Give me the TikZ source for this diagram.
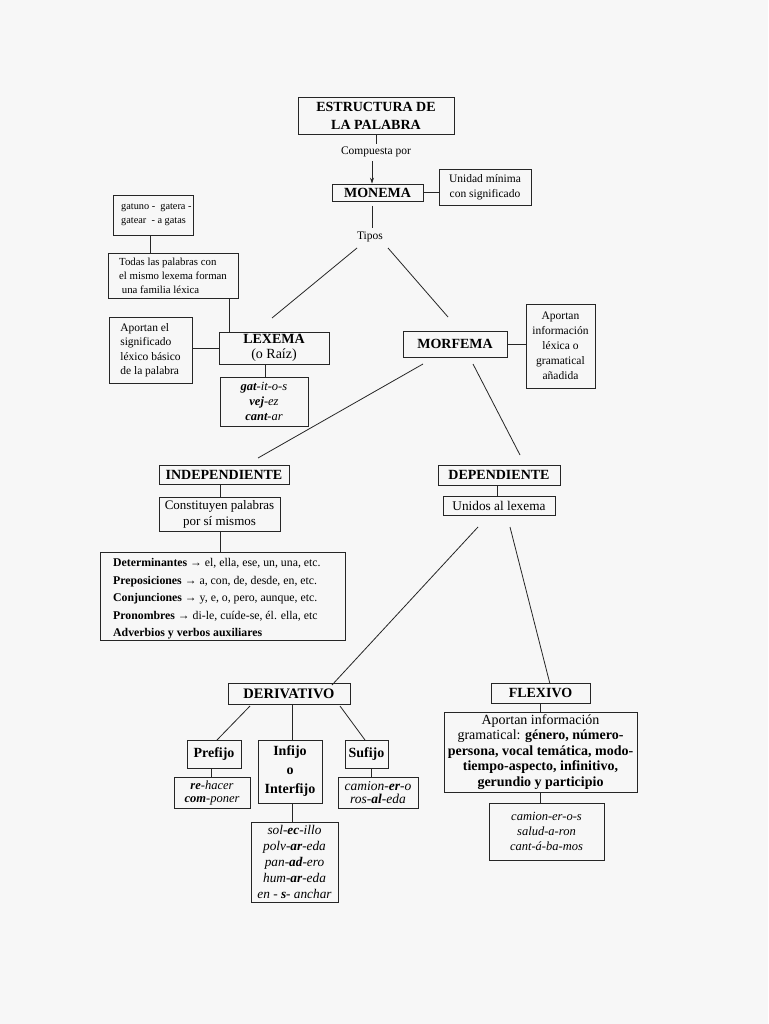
\documentclass[tikz,border=0pt]{standalone}
\usepackage{fontspec}
\setmainfont{Liberation Serif}
\usetikzlibrary{arrows.meta}
\begin{document}
\begin{tikzpicture}[x=1pt,y=-1pt,
  box/.style={draw=black!85, line width=0.8pt, inner sep=0pt, align=center,
    font=\fontsize{11.5}{14.5}\selectfont},
  lbox/.style={box, align=left},
  ttl/.style={box, font=\fontsize{14}{17}\selectfont\bfseries},
  sttl/.style={box, font=\fontsize{14}{16}\selectfont\bfseries},
  exbox/.style={box, font=\fontsize{12.5}{15}\selectfont\itshape},
  lab/.style={inner sep=0pt, font=\fontsize{11.5}{14}\selectfont},
  con/.style={draw=black!85, line width=0.8pt}]
\fill[black!3] (0,0) rectangle (768,1024);
\useasboundingbox (0,0) rectangle (768,1024);

% top
\node[ttl, minimum width=156, minimum height=37] (est) at (376,115.5) {ESTRUCTURA DE\\[1pt]LA PALABRA};
\node[lab] (comp) at (376,152) {Compuesta por};
\node[ttl, minimum width=91, minimum height=17] (mon) at (377.5,192.5) {MONEMA};
\node[box, minimum width=92, minimum height=36] (uni) at (485,187) {Unidad mínima\\con significado};
\node[lab] (tipos) at (370,237) {Tipos};
\draw[con] (est.south -| comp) -- ([yshift=3]comp.north);
\coordinate (ax) at (372,0);
\draw[con, -{Stealth[length=6pt,width=4pt]}] ([yshift=-4]comp.south -| ax) -- (mon.north -| ax);
\draw[con] (mon.east) -- (uni.west |- mon.east);
\coordinate (mb) at (372,206);
\draw[con] (mb) -- ([yshift=4]tipos.north -| mb);

% lexema side
\node[box, minimum width=80, minimum height=40] (gat) at (153,215) {};
\node[lab, align=left, anchor=west, font=\fontsize{10.3}{14}\selectfont] (gattxt) at (121,215) {gatuno -\ \ gatera -\\gatear\ \ - a gatas};
\node[lbox, minimum width=130, minimum height=45, font=\fontsize{10.8}{14}\selectfont] (todas) at (173,275.5) {Todas las palabras con\\el mismo lexema forman\\\ una familia léxica};
\node[lbox, minimum width=83, minimum height=66] (apel) at (150.5,350) {Aportan el\\significado\\léxico básico\\de la palabra};
\node[box, minimum width=110, minimum height=32, font=\fontsize{14}{15}\selectfont] (lex) at (274,348) {\textbf{LEXEMA}\\(o Raíz)};
\node[exbox, minimum width=88, minimum height=49] (lexex) at (264,401.5) {\textbf{gat}-it-o-s\\\textbf{vej}-ez\\\textbf{cant}-ar};
\coordinate (gx) at (150,0);
\coordinate (tx) at (229,0);
\coordinate (lx) at (265,0);
\draw[con] (gat.south -| gx) -- (todas.north -| gx);
\draw[con] (todas.south -| tx) -- (lex.north -| tx);
\draw[con] (apel.east |- lex.center) -- (lex.west);
\draw[con] (lex.south -| lx) -- (lexex.north -| lx);

% morfema side
\node[ttl, minimum width=104, minimum height=26] (mor) at (455,344) {MORFEMA};
\node[box, minimum width=69, minimum height=84, font=\fontsize{11.5}{15}\selectfont] (apinf) at (560.5,346) {Aportan\\información\\léxica o\\gramatical\\añadida};
\draw[con] (mor.east) -- (apinf.west |- mor.east);

% tipos branches
\coordinate (t1) at (357,248);
\coordinate (t1e) at (272,318);
\coordinate (t2) at (388,248);
\coordinate (t2e) at (448,317);
\draw[con] (t1) -- (t1e);
\draw[con] (t2) -- (t2e);

% morfema branches
\coordinate (m1) at (423,364);
\coordinate (m1e) at (258,458);
\coordinate (m2) at (473,364);
\coordinate (m2e) at (520,455);
\draw[con] (m1) -- (m1e);
\draw[con] (m2) -- (m2e);

% independiente
\node[ttl, minimum width=130, minimum height=19] (indep) at (224,474.5) {INDEPENDIENTE};
\node[box, minimum width=121, minimum height=34, font=\fontsize{13}{16}\selectfont] (const) at (219.5,514) {Constituyen palabras\\por sí mismos};
\node[box, minimum width=245, minimum height=88] (list) at (222.5,596) {};
\node[lab, align=left, anchor=west, font=\fontsize{11.8}{17.5}\selectfont] (listtxt) at (113,599)
 {\textbf{Determinantes} → el, ella, ese, un, una, etc.\\
  \textbf{Preposiciones} → a, con, de, desde, en, etc.\\
  \textbf{Conjunciones} → y, e, o, pero, aunque, etc.\\
  \textbf{Pronombres} → di-le, cuíde-se, él. ella, etc\\
  \textbf{Adverbios y verbos auxiliares}};
\coordinate (ix) at (220,0);
\draw[con] (indep.south -| ix) -- (const.north -| ix);
\draw[con] (const.south -| ix) -- (list.north -| ix);

% dependiente
\node[ttl, minimum width=122, minimum height=20] (dep) at (499,475) {DEPENDIENTE};
\node[box, minimum width=112, minimum height=19, font=\fontsize{13.3}{15}\selectfont] (unid) at (499,505.5) {Unidos al lexema};
\coordinate (dx) at (497,0);
\draw[con] (dep.south -| dx) -- (unid.north -| dx);
\coordinate (u1) at (478,527);
\coordinate (u1e) at (332,685);
\coordinate (u2) at (510,527);
\coordinate (u2e) at (550,684);
\draw[con] (u1) -- (u1e);
\draw[con] (u2) -- (u2e);

% derivativo
\node[ttl, minimum width=122, minimum height=21, font=\fontsize{14.5}{15}\selectfont\bfseries] (deriv) at (289,693.5) {DERIVATIVO};
\node[sttl, minimum width=54, minimum height=28] (pref) at (214,754) {Prefijo};
\node[sttl, minimum width=64, minimum height=63, font=\fontsize{14}{19}\selectfont\bfseries] (inf) at (290,771.5) {Infijo\\o\\Interfijo};
\node[sttl, minimum width=43, minimum height=28] (suf) at (366.5,754) {Sufijo};
\node[exbox, minimum width=76, minimum height=31, font=\fontsize{12.5}{13}\selectfont\itshape] (prefex) at (212,792.5) {\textbf{re}-hacer\\\textbf{com}-poner};
\node[exbox, minimum width=87, minimum height=80, font=\fontsize{13.3}{16}\selectfont\itshape] (infex) at (294.5,862) {sol-\textbf{ec}-illo\\polv-\textbf{ar}-eda\\pan-\textbf{ad}-ero\\hum-\textbf{ar}-eda\\en - \textbf{s}- anchar};
\node[exbox, minimum width=80, minimum height=31, font=\fontsize{13.5}{13}\selectfont\itshape] (sufex) at (378,792.5) {camion-\textbf{er}-o\\ros-\textbf{al}-eda};
\coordinate (d1) at (250,706);
\coordinate (d1e) at (217,740);
\coordinate (d3) at (340,706);
\coordinate (d3e) at (365,740);
\coordinate (px) at (211,0);
\coordinate (fx) at (292,0);
\coordinate (sx) at (371,0);
\draw[con] (d1) -- (d1e);
\draw[con] (deriv.south -| fx) -- (inf.north -| fx);
\draw[con] (d3) -- (d3e);
\draw[con] (pref.south -| px) -- (prefex.north -| px);
\draw[con] (inf.south -| fx) -- (infex.north -| fx);
\draw[con] (suf.south -| sx) -- (sufex.north -| sx);

% flexivo
\node[ttl, minimum width=99, minimum height=20] (flex) at (540.5,693) {FLEXIVO};
\node[box, minimum width=193, minimum height=80, font=\fontsize{14}{15.5}\selectfont] (finfo) at (540.5,752)
 {Aportan información\\gramatical: \textbf{género, número-}\\\textbf{persona, vocal temática, modo-}\\\textbf{tiempo-aspecto, infinitivo,}\\\textbf{gerundio y participio}};
\node[exbox, minimum width=115, minimum height=57] (flexex) at (546.5,831.5) {camion-er-o-s\\salud-a-ron\\cant-á-ba-mos};
\coordinate (flx) at (540,0);
\draw[con] (flex.south -| flx) -- (finfo.north -| flx);
\draw[con] (finfo.south -| flx) -- (flexex.north -| flx);
\end{tikzpicture}
\end{document}
